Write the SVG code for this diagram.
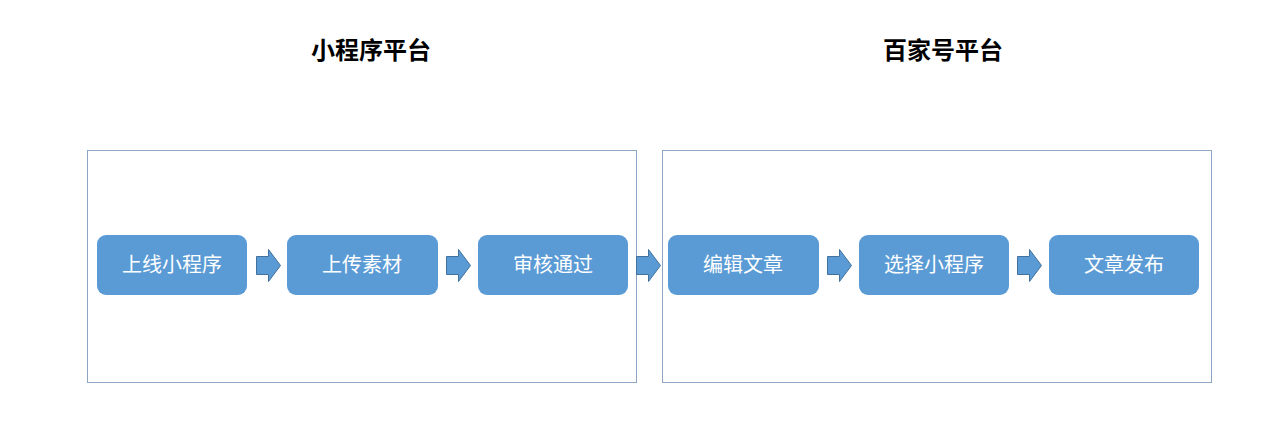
<svg xmlns="http://www.w3.org/2000/svg" width="1280" height="432" viewBox="0 0 1280 432">
<style>
.t{font-family:"Liberation Serif","Noto Sans CJK SC",serif;font-weight:bold;font-size:24px;text-anchor:middle}
.frame{fill:none;stroke:#8da4c2;stroke-width:1}
.n rect{fill:#5b9bd5}
.n text{font-family:"Liberation Sans","Noto Sans CJK SC",sans-serif;font-size:20px;fill:#fff;text-anchor:middle}
.a{fill:#5b9bd5;stroke:#41719c;stroke-width:1}
</style>
<rect width="1280" height="432" fill="#fff"/>
<text class="t" x="371" y="59">小程序平台</text>
<text class="t" x="943" y="59">百家号平台</text>
<rect class="frame" x="87.5" y="150.5" width="549" height="232"/>
<rect class="frame" x="662.5" y="150.5" width="549" height="232"/>
<g id="n1" class="n"><rect x="97" y="235" width="150" height="60" rx="9"/><text x="172" y="272">上线小程序</text></g>
<g id="n2" class="n"><rect x="287" y="235" width="151" height="60" rx="9"/><text x="362" y="272">上传素材</text></g>
<g id="n3" class="n"><rect x="478" y="235" width="150" height="60" rx="9"/><text x="553" y="272">审核通过</text></g>
<g id="n4" class="n"><rect x="668" y="235" width="151" height="60" rx="9"/><text x="743" y="272">编辑文章</text></g>
<g id="n5" class="n"><rect x="859" y="235" width="150" height="60" rx="9"/><text x="934" y="272">选择小程序</text></g>
<g id="n6" class="n"><rect x="1049" y="235" width="150" height="60" rx="9"/><text x="1124" y="272">文章发布</text></g>
<g id="connectors">
<path class="a" d="M256.5,256.5h12v-7l12,16l-12,16v-7h-12z"/>
<path class="a" d="M446.5,256.5h12v-7l12,16l-12,16v-7h-12z"/>
<path class="a" d="M636.5,256.5h12v-7l12,16l-12,16v-7h-12z"/>
<path class="a" d="M827.5,256.5h12v-7l12,16l-12,16v-7h-12z"/>
<path class="a" d="M1017.5,256.5h12v-7l12,16l-12,16v-7h-12z"/>
</g>
</svg>
